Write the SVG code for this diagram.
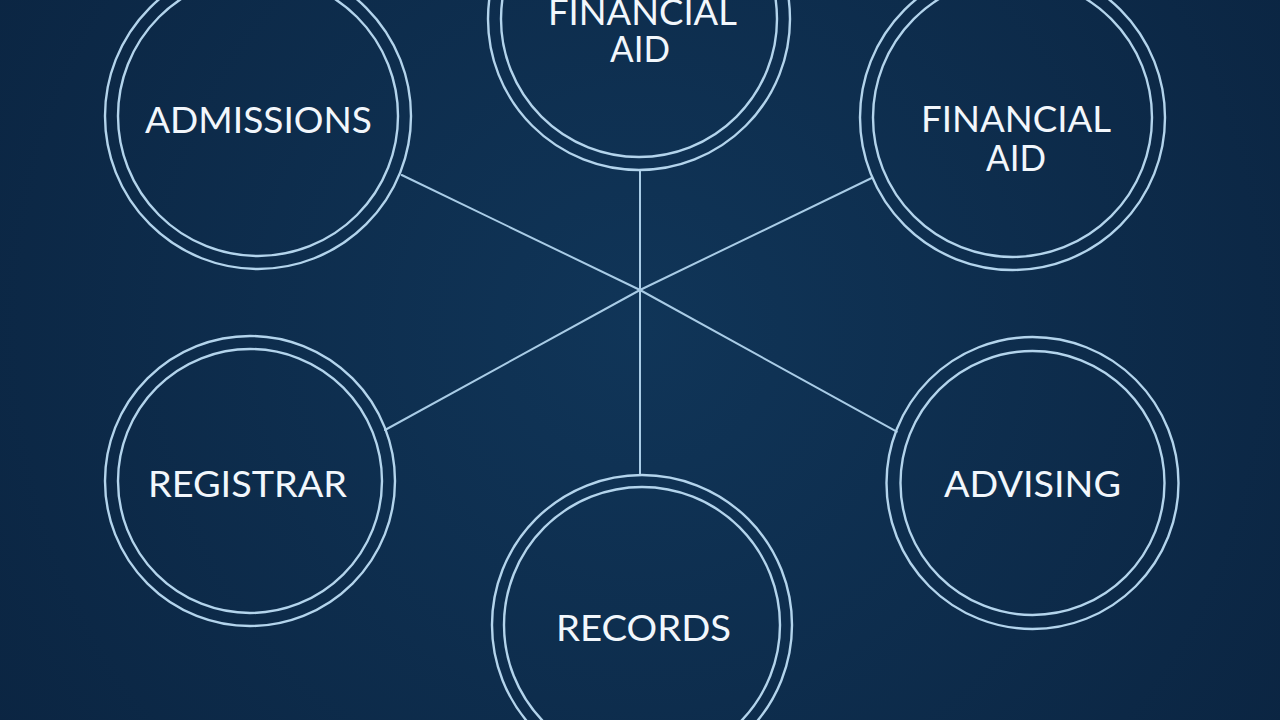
<svg xmlns="http://www.w3.org/2000/svg" width="1280" height="720" viewBox="0 0 1280 720">
  <defs>
    <radialGradient id="bg" cx="640" cy="330" r="760" gradientUnits="userSpaceOnUse">
      <stop offset="0" stop-color="#103558"/>
      <stop offset="1" stop-color="#0b2542"/>
    </radialGradient>
    <style>
      .ring { fill: none; stroke: #b3d4ec; stroke-width: 2.4; }
      .link { stroke: #a9cce6; stroke-width: 2; fill: none; stroke-linecap: round; }
      .label { font-family: "Lato", "Liberation Sans", sans-serif; font-size: 36px; fill: #f2f7fc; text-anchor: middle; }
    </style>
  </defs>
  <rect x="0" y="0" width="1280" height="720" fill="url(#bg)"/>

  <g id="connectors">
    <line class="link" x1="640" y1="290" x2="401.7" y2="175"/>
    <line class="link" x1="640" y1="290" x2="640" y2="170"/>
    <line class="link" x1="640" y1="290" x2="871.7" y2="178"/>
    <line class="link" x1="640" y1="290" x2="385" y2="430"/>
    <line class="link" x1="640" y1="290" x2="640" y2="475"/>
    <line class="link" x1="640" y1="290" x2="896.7" y2="431.7"/>
  </g>

  <g id="node-admissions">
    <circle class="ring" cx="258" cy="116" r="153"/>
    <circle class="ring" cx="258" cy="116" r="140"/>
    <text class="label" x="258.5" y="133" textLength="227" lengthAdjust="spacingAndGlyphs">ADMISSIONS</text>
  </g>

  <g id="node-financial-aid-top">
    <circle class="ring" cx="639" cy="19" r="151"/>
    <circle class="ring" cx="639" cy="19" r="138"/>
    <text class="label" x="642.5" y="25" textLength="189" lengthAdjust="spacingAndGlyphs">FINANCIAL</text>
    <text class="label" x="640" y="62" textLength="60" lengthAdjust="spacingAndGlyphs">AID</text>
  </g>

  <g id="node-financial-aid-right">
    <circle class="ring" cx="1012.5" cy="117.5" r="152.5"/>
    <circle class="ring" cx="1012.5" cy="117.5" r="139.5"/>
    <text class="label" x="1016" y="132" textLength="190" lengthAdjust="spacingAndGlyphs">FINANCIAL</text>
    <text class="label" x="1016" y="171" textLength="60" lengthAdjust="spacingAndGlyphs">AID</text>
  </g>

  <g id="node-registrar">
    <circle class="ring" cx="250" cy="481" r="145"/>
    <circle class="ring" cx="250" cy="481" r="132"/>
    <text class="label" x="247.5" y="497" textLength="199" lengthAdjust="spacingAndGlyphs">REGISTRAR</text>
  </g>

  <g id="node-records">
    <circle class="ring" cx="642" cy="625" r="150"/>
    <circle class="ring" cx="642" cy="625" r="138"/>
    <text class="label" x="643.5" y="641" textLength="175" lengthAdjust="spacingAndGlyphs">RECORDS</text>
  </g>

  <g id="node-advising">
    <circle class="ring" cx="1032.5" cy="483" r="146"/>
    <circle class="ring" cx="1032.5" cy="483" r="132"/>
    <text class="label" x="1032.5" y="497" textLength="177" lengthAdjust="spacingAndGlyphs">ADVISING</text>
  </g>
</svg>
